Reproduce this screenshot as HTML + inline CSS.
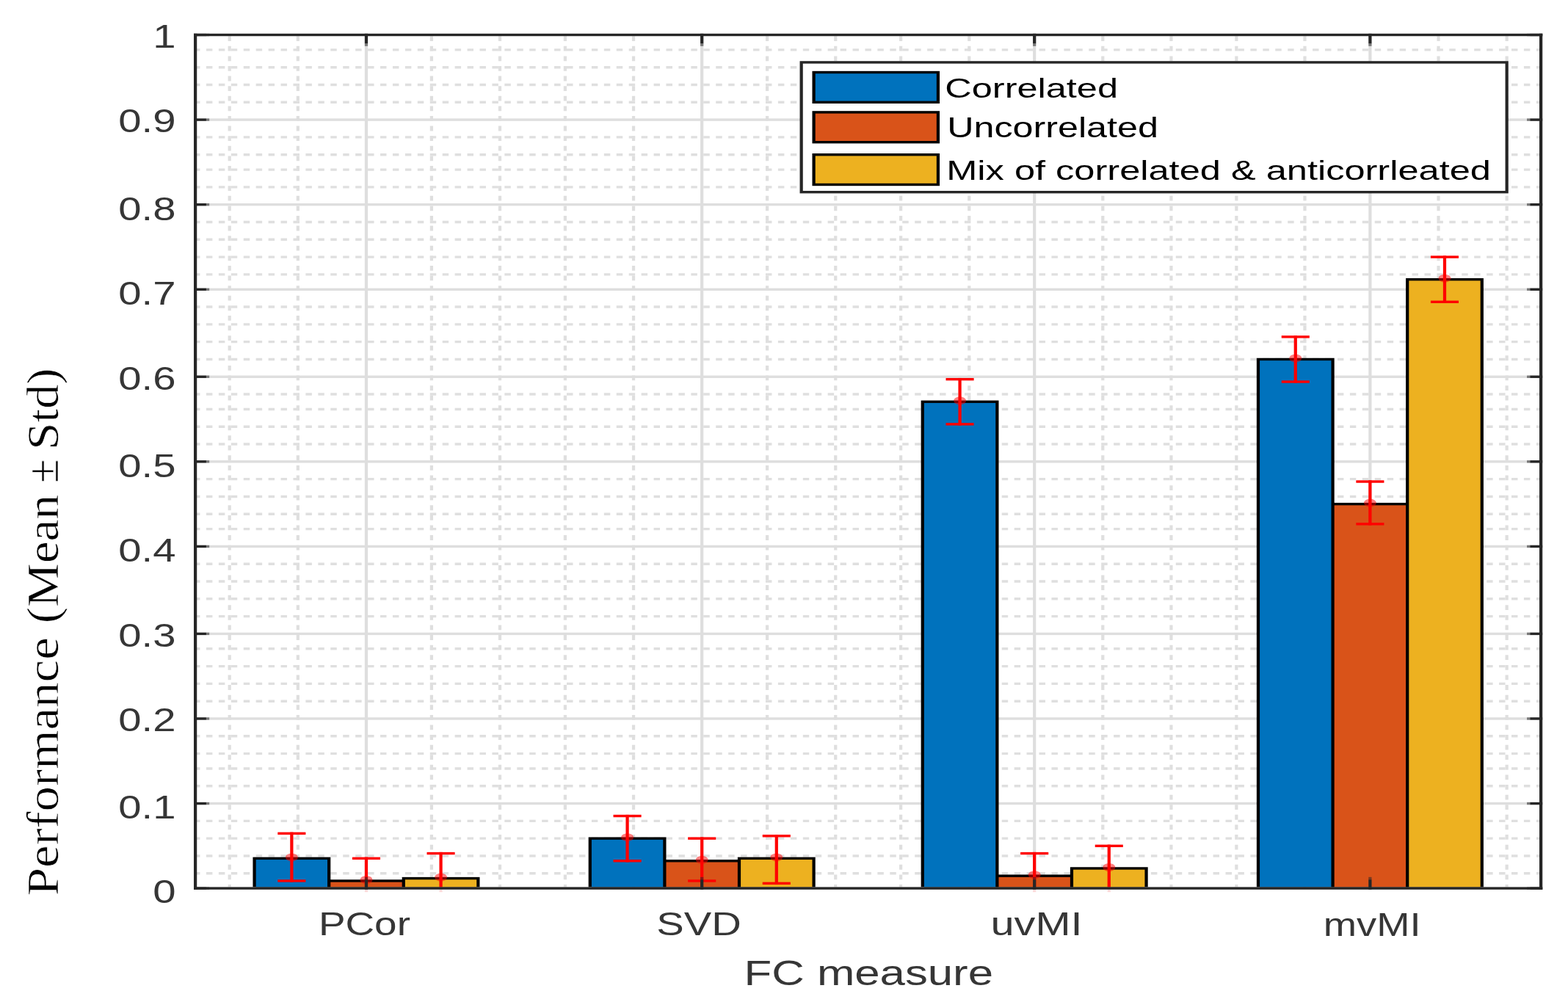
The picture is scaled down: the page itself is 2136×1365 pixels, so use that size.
<!DOCTYPE html>
<html><head><meta charset="utf-8"><title>FC measure performance</title>
<style>
html,body{margin:0;padding:0;background:#fff;overflow:hidden;}
svg{display:block;}
.s{font-family:"Liberation Sans",Arial,Helvetica,sans-serif;fill:#363636;}
.k{font-family:"Liberation Sans",Arial,Helvetica,sans-serif;fill:#000;}
.r{font-family:"Liberation Serif","Times New Roman",serif;fill:#000;stroke:#fff;stroke-width:4px;}
</style></head>
<body>
<svg width="2136" height="1365" viewBox="0 0 2136 1365">
<rect x="0" y="0" width="2136" height="1365" fill="#fff"/>
<line x1="264.00" y1="1189.76" x2="2097.0" y2="1189.76" stroke="#dfdfdf" stroke-width="3.4" stroke-dasharray="8.467 8.467"/>
<line x1="264.00" y1="1165.96" x2="2097.0" y2="1165.96" stroke="#dfdfdf" stroke-width="3.4" stroke-dasharray="8.467 8.467"/>
<line x1="264.00" y1="1142.16" x2="2097.0" y2="1142.16" stroke="#dfdfdf" stroke-width="3.4" stroke-dasharray="8.467 8.467"/>
<line x1="264.00" y1="1118.37" x2="2097.0" y2="1118.37" stroke="#dfdfdf" stroke-width="3.4" stroke-dasharray="8.467 8.467"/>
<line x1="264.00" y1="1070.77" x2="2097.0" y2="1070.77" stroke="#dfdfdf" stroke-width="3.4" stroke-dasharray="8.467 8.467"/>
<line x1="264.00" y1="1046.98" x2="2097.0" y2="1046.98" stroke="#dfdfdf" stroke-width="3.4" stroke-dasharray="8.467 8.467"/>
<line x1="264.00" y1="1026.58" x2="2097.0" y2="1026.58" stroke="#dfdfdf" stroke-width="3.4" stroke-dasharray="8.467 8.467"/>
<line x1="264.00" y1="1002.78" x2="2097.0" y2="1002.78" stroke="#dfdfdf" stroke-width="3.4" stroke-dasharray="8.467 8.467"/>
<line x1="264.00" y1="955.19" x2="2097.0" y2="955.19" stroke="#dfdfdf" stroke-width="3.4" stroke-dasharray="8.467 8.467"/>
<line x1="264.00" y1="931.39" x2="2097.0" y2="931.39" stroke="#dfdfdf" stroke-width="3.4" stroke-dasharray="8.467 8.467"/>
<line x1="264.00" y1="907.60" x2="2097.0" y2="907.60" stroke="#dfdfdf" stroke-width="3.4" stroke-dasharray="8.467 8.467"/>
<line x1="264.00" y1="883.80" x2="2097.0" y2="883.80" stroke="#dfdfdf" stroke-width="3.4" stroke-dasharray="8.467 8.467"/>
<line x1="264.00" y1="839.61" x2="2097.0" y2="839.61" stroke="#dfdfdf" stroke-width="3.4" stroke-dasharray="8.467 8.467"/>
<line x1="264.00" y1="815.81" x2="2097.0" y2="815.81" stroke="#dfdfdf" stroke-width="3.4" stroke-dasharray="8.467 8.467"/>
<line x1="264.00" y1="792.01" x2="2097.0" y2="792.01" stroke="#dfdfdf" stroke-width="3.4" stroke-dasharray="8.467 8.467"/>
<line x1="264.00" y1="768.22" x2="2097.0" y2="768.22" stroke="#dfdfdf" stroke-width="3.4" stroke-dasharray="8.467 8.467"/>
<line x1="264.00" y1="720.62" x2="2097.0" y2="720.62" stroke="#dfdfdf" stroke-width="3.4" stroke-dasharray="8.467 8.467"/>
<line x1="264.00" y1="700.23" x2="2097.0" y2="700.23" stroke="#dfdfdf" stroke-width="3.4" stroke-dasharray="8.467 8.467"/>
<line x1="264.00" y1="676.43" x2="2097.0" y2="676.43" stroke="#dfdfdf" stroke-width="3.4" stroke-dasharray="8.467 8.467"/>
<line x1="264.00" y1="652.63" x2="2097.0" y2="652.63" stroke="#dfdfdf" stroke-width="3.4" stroke-dasharray="8.467 8.467"/>
<line x1="264.00" y1="605.04" x2="2097.0" y2="605.04" stroke="#dfdfdf" stroke-width="3.4" stroke-dasharray="8.467 8.467"/>
<line x1="264.00" y1="581.24" x2="2097.0" y2="581.24" stroke="#dfdfdf" stroke-width="3.4" stroke-dasharray="8.467 8.467"/>
<line x1="264.00" y1="557.45" x2="2097.0" y2="557.45" stroke="#dfdfdf" stroke-width="3.4" stroke-dasharray="8.467 8.467"/>
<line x1="264.00" y1="537.05" x2="2097.0" y2="537.05" stroke="#dfdfdf" stroke-width="3.4" stroke-dasharray="8.467 8.467"/>
<line x1="264.00" y1="489.46" x2="2097.0" y2="489.46" stroke="#dfdfdf" stroke-width="3.4" stroke-dasharray="8.467 8.467"/>
<line x1="264.00" y1="465.66" x2="2097.0" y2="465.66" stroke="#dfdfdf" stroke-width="3.4" stroke-dasharray="8.467 8.467"/>
<line x1="264.00" y1="441.87" x2="2097.0" y2="441.87" stroke="#dfdfdf" stroke-width="3.4" stroke-dasharray="8.467 8.467"/>
<line x1="264.00" y1="418.07" x2="2097.0" y2="418.07" stroke="#dfdfdf" stroke-width="3.4" stroke-dasharray="8.467 8.467"/>
<line x1="264.00" y1="373.88" x2="2097.0" y2="373.88" stroke="#dfdfdf" stroke-width="3.4" stroke-dasharray="8.467 8.467"/>
<line x1="264.00" y1="350.08" x2="2097.0" y2="350.08" stroke="#dfdfdf" stroke-width="3.4" stroke-dasharray="8.467 8.467"/>
<line x1="264.00" y1="326.28" x2="2097.0" y2="326.28" stroke="#dfdfdf" stroke-width="3.4" stroke-dasharray="8.467 8.467"/>
<line x1="264.00" y1="302.49" x2="2097.0" y2="302.49" stroke="#dfdfdf" stroke-width="3.4" stroke-dasharray="8.467 8.467"/>
<line x1="264.00" y1="254.89" x2="2097.0" y2="254.89" stroke="#dfdfdf" stroke-width="3.4" stroke-dasharray="8.467 8.467"/>
<line x1="264.00" y1="231.10" x2="2097.0" y2="231.10" stroke="#dfdfdf" stroke-width="3.4" stroke-dasharray="8.467 8.467"/>
<line x1="264.00" y1="210.70" x2="2097.0" y2="210.70" stroke="#dfdfdf" stroke-width="3.4" stroke-dasharray="8.467 8.467"/>
<line x1="264.00" y1="186.90" x2="2097.0" y2="186.90" stroke="#dfdfdf" stroke-width="3.4" stroke-dasharray="8.467 8.467"/>
<line x1="264.00" y1="139.31" x2="2097.0" y2="139.31" stroke="#dfdfdf" stroke-width="3.4" stroke-dasharray="8.467 8.467"/>
<line x1="264.00" y1="115.51" x2="2097.0" y2="115.51" stroke="#dfdfdf" stroke-width="3.4" stroke-dasharray="8.467 8.467"/>
<line x1="264.00" y1="91.72" x2="2097.0" y2="91.72" stroke="#dfdfdf" stroke-width="3.4" stroke-dasharray="8.467 8.467"/>
<line x1="264.00" y1="67.92" x2="2097.0" y2="67.92" stroke="#dfdfdf" stroke-width="3.4" stroke-dasharray="8.467 8.467"/>
<line x1="312.69" y1="49.22" x2="312.69" y2="1208.4" stroke="#dfdfdf" stroke-width="4.23" stroke-dasharray="6.799 6.799"/>
<line x1="405.82" y1="49.22" x2="405.82" y2="1208.4" stroke="#dfdfdf" stroke-width="4.23" stroke-dasharray="6.799 6.799"/>
<line x1="587.86" y1="49.22" x2="587.86" y2="1208.4" stroke="#dfdfdf" stroke-width="4.23" stroke-dasharray="6.799 6.799"/>
<line x1="681.00" y1="49.22" x2="681.00" y2="1208.4" stroke="#dfdfdf" stroke-width="4.23" stroke-dasharray="6.799 6.799"/>
<line x1="769.90" y1="49.22" x2="769.90" y2="1208.4" stroke="#dfdfdf" stroke-width="4.23" stroke-dasharray="6.799 6.799"/>
<line x1="863.04" y1="49.22" x2="863.04" y2="1208.4" stroke="#dfdfdf" stroke-width="4.23" stroke-dasharray="6.799 6.799"/>
<line x1="1045.08" y1="49.22" x2="1045.08" y2="1208.4" stroke="#dfdfdf" stroke-width="4.23" stroke-dasharray="6.799 6.799"/>
<line x1="1138.22" y1="49.22" x2="1138.22" y2="1208.4" stroke="#dfdfdf" stroke-width="4.23" stroke-dasharray="6.799 6.799"/>
<line x1="1227.12" y1="49.22" x2="1227.12" y2="1208.4" stroke="#dfdfdf" stroke-width="4.23" stroke-dasharray="6.799 6.799"/>
<line x1="1320.26" y1="49.22" x2="1320.26" y2="1208.4" stroke="#dfdfdf" stroke-width="4.23" stroke-dasharray="6.799 6.799"/>
<line x1="1502.30" y1="49.22" x2="1502.30" y2="1208.4" stroke="#dfdfdf" stroke-width="4.23" stroke-dasharray="6.799 6.799"/>
<line x1="1595.44" y1="49.22" x2="1595.44" y2="1208.4" stroke="#dfdfdf" stroke-width="4.23" stroke-dasharray="6.799 6.799"/>
<line x1="1684.34" y1="49.22" x2="1684.34" y2="1208.4" stroke="#dfdfdf" stroke-width="4.23" stroke-dasharray="6.799 6.799"/>
<line x1="1777.48" y1="49.22" x2="1777.48" y2="1208.4" stroke="#dfdfdf" stroke-width="4.23" stroke-dasharray="6.799 6.799"/>
<line x1="1959.52" y1="49.22" x2="1959.52" y2="1208.4" stroke="#dfdfdf" stroke-width="4.23" stroke-dasharray="6.799 6.799"/>
<line x1="2052.65" y1="49.22" x2="2052.65" y2="1208.4" stroke="#dfdfdf" stroke-width="4.23" stroke-dasharray="6.799 6.799"/>
<rect x="268.2" y="1092.87" width="1828.7" height="3.4" fill="#dedede"/>
<rect x="268.2" y="977.29" width="1828.7" height="3.4" fill="#dedede"/>
<rect x="268.2" y="861.70" width="1828.7" height="3.4" fill="#dedede"/>
<rect x="268.2" y="742.72" width="1828.7" height="3.4" fill="#dedede"/>
<rect x="268.2" y="627.14" width="1828.7" height="3.4" fill="#dedede"/>
<rect x="268.2" y="511.55" width="1828.7" height="3.4" fill="#dedede"/>
<rect x="268.2" y="392.57" width="1828.7" height="3.4" fill="#dedede"/>
<rect x="268.2" y="276.99" width="1828.7" height="3.4" fill="#dedede"/>
<rect x="268.2" y="161.41" width="1828.7" height="3.4" fill="#dedede"/>
<rect x="496.85" y="49.2" width="4.23" height="1159.2" fill="#dedede"/>
<rect x="954.06" y="49.2" width="4.23" height="1159.2" fill="#dedede"/>
<rect x="1407.05" y="49.2" width="4.23" height="1159.2" fill="#dedede"/>
<rect x="1864.27" y="49.2" width="4.23" height="1159.2" fill="#dedede"/>
<rect x="344.44" y="1167.66" width="105.84" height="40.79" fill="#000"/>
<rect x="446.04" y="1198.26" width="105.84" height="10.20" fill="#000"/>
<rect x="547.65" y="1194.86" width="105.84" height="13.60" fill="#000"/>
<rect x="801.66" y="1140.46" width="105.84" height="67.99" fill="#000"/>
<rect x="903.26" y="1171.06" width="105.84" height="37.39" fill="#000"/>
<rect x="1004.86" y="1167.66" width="105.84" height="40.79" fill="#000"/>
<rect x="1254.64" y="545.55" width="105.84" height="662.90" fill="#000"/>
<rect x="1356.24" y="1191.46" width="105.84" height="17.00" fill="#000"/>
<rect x="1457.85" y="1181.26" width="105.84" height="27.20" fill="#000"/>
<rect x="1711.86" y="487.76" width="105.84" height="720.69" fill="#000"/>
<rect x="1813.46" y="684.93" width="105.84" height="523.52" fill="#000"/>
<rect x="1915.07" y="378.98" width="105.84" height="829.48" fill="#000"/>
<rect x="348.67" y="1171.06" width="97.37" height="37.39" fill="#0072bd"/>
<rect x="450.28" y="1201.66" width="97.37" height="6.80" fill="#d95319"/>
<rect x="551.88" y="1198.26" width="97.37" height="10.20" fill="#edb120"/>
<rect x="805.89" y="1143.86" width="97.37" height="64.59" fill="#0072bd"/>
<rect x="907.49" y="1174.46" width="97.37" height="34.00" fill="#d95319"/>
<rect x="1009.10" y="1171.06" width="97.37" height="37.39" fill="#edb120"/>
<rect x="1258.87" y="548.95" width="97.37" height="659.50" fill="#0072bd"/>
<rect x="1360.48" y="1194.86" width="97.37" height="13.60" fill="#d95319"/>
<rect x="1462.08" y="1184.66" width="97.37" height="23.80" fill="#edb120"/>
<rect x="1716.09" y="491.16" width="97.37" height="717.29" fill="#0072bd"/>
<rect x="1817.70" y="688.33" width="97.37" height="520.12" fill="#d95319"/>
<rect x="1919.30" y="382.38" width="97.37" height="826.08" fill="#edb120"/>
<rect x="395.24" y="1133.67" width="4.23" height="67.99" fill="#ff0000"/>
<rect x="378.31" y="1133.67" width="38.10" height="3.40" fill="#ff0000"/>
<rect x="378.31" y="1198.26" width="38.10" height="3.40" fill="#ff0000"/>
<ellipse cx="397.4" cy="1167.9" rx="8.5" ry="5.5" fill="#ff0000" fill-opacity="0.5"/>
<rect x="496.84" y="1167.66" width="4.23" height="40.79" fill="#ff0000"/>
<rect x="479.91" y="1167.66" width="38.10" height="3.40" fill="#ff0000"/>
<rect x="496.84" y="1211.85" width="4.23" height="3.40" fill="#ff0000" fill-opacity="0.15"/>
<ellipse cx="499.0" cy="1198.5" rx="8.5" ry="5.5" fill="#ff0000" fill-opacity="0.5"/>
<rect x="598.45" y="1160.86" width="4.23" height="47.59" fill="#ff0000"/>
<rect x="581.51" y="1160.86" width="38.10" height="3.40" fill="#ff0000"/>
<rect x="598.45" y="1211.85" width="4.23" height="3.40" fill="#ff0000" fill-opacity="0.15"/>
<ellipse cx="600.6" cy="1195.1" rx="8.5" ry="5.5" fill="#ff0000" fill-opacity="0.5"/>
<rect x="852.46" y="1109.87" width="4.23" height="64.59" fill="#ff0000"/>
<rect x="835.52" y="1109.87" width="38.10" height="3.40" fill="#ff0000"/>
<rect x="835.52" y="1171.06" width="38.10" height="3.40" fill="#ff0000"/>
<ellipse cx="854.6" cy="1140.7" rx="8.5" ry="5.5" fill="#ff0000" fill-opacity="0.5"/>
<rect x="954.06" y="1140.46" width="4.23" height="61.19" fill="#ff0000"/>
<rect x="937.13" y="1140.46" width="38.10" height="3.40" fill="#ff0000"/>
<rect x="937.13" y="1198.26" width="38.10" height="3.40" fill="#ff0000"/>
<ellipse cx="956.2" cy="1171.3" rx="8.5" ry="5.5" fill="#ff0000" fill-opacity="0.5"/>
<rect x="1055.67" y="1137.06" width="4.23" height="67.99" fill="#ff0000"/>
<rect x="1038.73" y="1137.06" width="38.10" height="3.40" fill="#ff0000"/>
<rect x="1038.73" y="1201.66" width="38.10" height="3.40" fill="#ff0000"/>
<ellipse cx="1057.8" cy="1167.9" rx="8.5" ry="5.5" fill="#ff0000" fill-opacity="0.5"/>
<rect x="1305.44" y="514.96" width="4.23" height="64.59" fill="#ff0000"/>
<rect x="1288.51" y="514.96" width="38.10" height="3.40" fill="#ff0000"/>
<rect x="1288.51" y="576.15" width="38.10" height="3.40" fill="#ff0000"/>
<ellipse cx="1307.6" cy="545.8" rx="8.5" ry="5.5" fill="#ff0000" fill-opacity="0.5"/>
<rect x="1407.05" y="1160.86" width="4.23" height="47.59" fill="#ff0000"/>
<rect x="1390.11" y="1160.86" width="38.10" height="3.40" fill="#ff0000"/>
<rect x="1407.05" y="1211.85" width="4.23" height="3.40" fill="#ff0000" fill-opacity="0.15"/>
<ellipse cx="1409.2" cy="1191.7" rx="8.5" ry="5.5" fill="#ff0000" fill-opacity="0.5"/>
<rect x="1508.65" y="1150.66" width="4.23" height="57.79" fill="#ff0000"/>
<rect x="1491.72" y="1150.66" width="38.10" height="3.40" fill="#ff0000"/>
<rect x="1508.65" y="1211.85" width="4.23" height="3.40" fill="#ff0000" fill-opacity="0.15"/>
<ellipse cx="1510.8" cy="1181.5" rx="8.5" ry="5.5" fill="#ff0000" fill-opacity="0.5"/>
<rect x="1762.66" y="457.16" width="4.23" height="64.59" fill="#ff0000"/>
<rect x="1745.73" y="457.16" width="38.10" height="3.40" fill="#ff0000"/>
<rect x="1745.73" y="518.36" width="38.10" height="3.40" fill="#ff0000"/>
<ellipse cx="1764.8" cy="488.0" rx="8.5" ry="5.5" fill="#ff0000" fill-opacity="0.5"/>
<rect x="1864.26" y="654.34" width="4.23" height="61.19" fill="#ff0000"/>
<rect x="1847.33" y="654.34" width="38.10" height="3.40" fill="#ff0000"/>
<rect x="1847.33" y="712.13" width="38.10" height="3.40" fill="#ff0000"/>
<ellipse cx="1866.4" cy="685.1" rx="8.5" ry="5.5" fill="#ff0000" fill-opacity="0.5"/>
<rect x="1965.87" y="348.38" width="4.23" height="64.59" fill="#ff0000"/>
<rect x="1948.93" y="348.38" width="38.10" height="3.40" fill="#ff0000"/>
<rect x="1948.93" y="409.57" width="38.10" height="3.40" fill="#ff0000"/>
<ellipse cx="1968.0" cy="379.2" rx="8.5" ry="5.5" fill="#ff0000" fill-opacity="0.5"/>
<rect x="496.85" y="1194.80" width="4.23" height="3.40" fill="#262626" fill-opacity="0.55"/>
<rect x="496.85" y="1198.20" width="4.23" height="13.60" fill="#262626"/>
<rect x="496.85" y="59.40" width="4.23" height="3.40" fill="#262626" fill-opacity="0.55"/>
<rect x="496.85" y="45.80" width="4.23" height="13.60" fill="#262626"/>
<rect x="954.06" y="1194.80" width="4.23" height="3.40" fill="#262626" fill-opacity="0.55"/>
<rect x="954.06" y="1198.20" width="4.23" height="13.60" fill="#262626"/>
<rect x="954.06" y="59.40" width="4.23" height="3.40" fill="#262626" fill-opacity="0.55"/>
<rect x="954.06" y="45.80" width="4.23" height="13.60" fill="#262626"/>
<rect x="1407.05" y="1194.80" width="4.23" height="3.40" fill="#262626" fill-opacity="0.55"/>
<rect x="1407.05" y="1198.20" width="4.23" height="13.60" fill="#262626"/>
<rect x="1407.05" y="59.40" width="4.23" height="3.40" fill="#262626" fill-opacity="0.55"/>
<rect x="1407.05" y="45.80" width="4.23" height="13.60" fill="#262626"/>
<rect x="1864.27" y="1194.80" width="4.23" height="3.40" fill="#262626" fill-opacity="0.55"/>
<rect x="1864.27" y="1198.20" width="4.23" height="13.60" fill="#262626"/>
<rect x="1864.27" y="59.40" width="4.23" height="3.40" fill="#262626" fill-opacity="0.55"/>
<rect x="1864.27" y="45.80" width="4.23" height="13.60" fill="#262626"/>
<rect x="280.93" y="1208.45" width="4.23" height="3.4" fill="#262626" fill-opacity="0.55"/>
<rect x="264.00" y="1208.45" width="16.93" height="3.4" fill="#262626"/>
<rect x="2080.04" y="1208.45" width="4.23" height="3.4" fill="#262626" fill-opacity="0.55"/>
<rect x="2084.27" y="1208.45" width="16.93" height="3.4" fill="#262626"/>
<rect x="280.93" y="1092.87" width="4.23" height="3.4" fill="#262626" fill-opacity="0.55"/>
<rect x="264.00" y="1092.87" width="16.93" height="3.4" fill="#262626"/>
<rect x="2080.04" y="1092.87" width="4.23" height="3.4" fill="#262626" fill-opacity="0.55"/>
<rect x="2084.27" y="1092.87" width="16.93" height="3.4" fill="#262626"/>
<rect x="280.93" y="977.29" width="4.23" height="3.4" fill="#262626" fill-opacity="0.55"/>
<rect x="264.00" y="977.29" width="16.93" height="3.4" fill="#262626"/>
<rect x="2080.04" y="977.29" width="4.23" height="3.4" fill="#262626" fill-opacity="0.55"/>
<rect x="2084.27" y="977.29" width="16.93" height="3.4" fill="#262626"/>
<rect x="280.93" y="861.70" width="4.23" height="3.4" fill="#262626" fill-opacity="0.55"/>
<rect x="264.00" y="861.70" width="16.93" height="3.4" fill="#262626"/>
<rect x="2080.04" y="861.70" width="4.23" height="3.4" fill="#262626" fill-opacity="0.55"/>
<rect x="2084.27" y="861.70" width="16.93" height="3.4" fill="#262626"/>
<rect x="280.93" y="742.72" width="4.23" height="3.4" fill="#262626" fill-opacity="0.55"/>
<rect x="264.00" y="742.72" width="16.93" height="3.4" fill="#262626"/>
<rect x="2080.04" y="742.72" width="4.23" height="3.4" fill="#262626" fill-opacity="0.55"/>
<rect x="2084.27" y="742.72" width="16.93" height="3.4" fill="#262626"/>
<rect x="280.93" y="627.14" width="4.23" height="3.4" fill="#262626" fill-opacity="0.55"/>
<rect x="264.00" y="627.14" width="16.93" height="3.4" fill="#262626"/>
<rect x="2080.04" y="627.14" width="4.23" height="3.4" fill="#262626" fill-opacity="0.55"/>
<rect x="2084.27" y="627.14" width="16.93" height="3.4" fill="#262626"/>
<rect x="280.93" y="511.55" width="4.23" height="3.4" fill="#262626" fill-opacity="0.55"/>
<rect x="264.00" y="511.55" width="16.93" height="3.4" fill="#262626"/>
<rect x="2080.04" y="511.55" width="4.23" height="3.4" fill="#262626" fill-opacity="0.55"/>
<rect x="2084.27" y="511.55" width="16.93" height="3.4" fill="#262626"/>
<rect x="280.93" y="392.57" width="4.23" height="3.4" fill="#262626" fill-opacity="0.55"/>
<rect x="264.00" y="392.57" width="16.93" height="3.4" fill="#262626"/>
<rect x="2080.04" y="392.57" width="4.23" height="3.4" fill="#262626" fill-opacity="0.55"/>
<rect x="2084.27" y="392.57" width="16.93" height="3.4" fill="#262626"/>
<rect x="280.93" y="276.99" width="4.23" height="3.4" fill="#262626" fill-opacity="0.55"/>
<rect x="264.00" y="276.99" width="16.93" height="3.4" fill="#262626"/>
<rect x="2080.04" y="276.99" width="4.23" height="3.4" fill="#262626" fill-opacity="0.55"/>
<rect x="2084.27" y="276.99" width="16.93" height="3.4" fill="#262626"/>
<rect x="280.93" y="161.41" width="4.23" height="3.4" fill="#262626" fill-opacity="0.55"/>
<rect x="264.00" y="161.41" width="16.93" height="3.4" fill="#262626"/>
<rect x="2080.04" y="161.41" width="4.23" height="3.4" fill="#262626" fill-opacity="0.55"/>
<rect x="2084.27" y="161.41" width="16.93" height="3.4" fill="#262626"/>
<rect x="280.93" y="45.82" width="4.23" height="3.4" fill="#262626" fill-opacity="0.55"/>
<rect x="264.00" y="45.82" width="16.93" height="3.4" fill="#262626"/>
<rect x="2080.04" y="45.82" width="4.23" height="3.4" fill="#262626" fill-opacity="0.55"/>
<rect x="2084.27" y="45.82" width="16.93" height="3.4" fill="#262626"/>
<rect x="264.0" y="45.8" width="4.23" height="1166.0" fill="#262626"/>
<rect x="2097.0" y="45.8" width="4.23" height="1166.0" fill="#262626"/>
<rect x="264.0" y="45.8" width="1837.2" height="3.4" fill="#262626"/>
<rect x="264.0" y="1208.4" width="1837.2" height="3.4" fill="#262626"/>
<rect x="1089.53" y="83.22" width="965.24" height="180.17" fill="#262626"/>
<rect x="1093.77" y="86.62" width="956.77" height="173.37" fill="#fff"/>
<rect x="1106.47" y="96.82" width="173.57" height="44.19" fill="#000"/>
<rect x="1110.70" y="100.22" width="165.11" height="37.39" fill="#0072bd"/>
<rect x="1106.47" y="151.21" width="173.57" height="44.19" fill="#000"/>
<rect x="1110.70" y="154.61" width="165.11" height="37.39" fill="#d95319"/>
<rect x="1106.47" y="209.00" width="173.57" height="44.19" fill="#000"/>
<rect x="1110.70" y="212.40" width="165.11" height="37.39" fill="#edb120"/>
<text class="s" font-size="400" transform="matrix(0.13722 0 0 0.11026 433.91 1274.41)">PCor</text>
<text class="s" font-size="400" transform="matrix(0.14044 0 0 0.11130 894.24 1274.30)">SVD</text>
<text class="s" font-size="400" transform="matrix(0.14435 0 0 0.10991 1349.49 1274.31)">uvMI</text>
<text class="s" font-size="400" transform="matrix(0.13597 0 0 0.11236 1802.70 1275.00)">mvMI</text>
<text class="s" font-size="400" transform="matrix(0.15433 0 0 0.12174 1013.48 1342.24)">FC measure</text>
<text class="k" font-size="400" transform="matrix(0.12621 0 0 0.09400 1287.33 132.61)">Correlated</text>
<text class="k" font-size="400" transform="matrix(0.12566 0 0 0.09500 1290.16 187.01)">Uncorrelated</text>
<text class="k" font-size="400" transform="matrix(0.12638 0 0 0.09467 1289.25 245.01)">Mix of correlated &amp; anticorrleated</text>
<text class="s" font-size="400" transform="matrix(0.14071 0 0 0.11130 208.18 64.75)">1</text>
<text class="s" font-size="400" transform="matrix(0.14071 0 0 0.11130 161.24 180.30)">0.9</text>
<text class="s" font-size="400" transform="matrix(0.14071 0 0 0.11130 161.24 299.50)">0.8</text>
<text class="s" font-size="400" transform="matrix(0.14071 0 0 0.11130 161.24 414.60)">0.7</text>
<text class="s" font-size="400" transform="matrix(0.14071 0 0 0.11130 161.24 530.60)">0.6</text>
<text class="s" font-size="400" transform="matrix(0.14071 0 0 0.11130 161.24 649.60)">0.5</text>
<text class="s" font-size="400" transform="matrix(0.14071 0 0 0.11130 161.24 765.30)">0.4</text>
<text class="s" font-size="400" transform="matrix(0.14071 0 0 0.11130 161.24 880.80)">0.3</text>
<text class="s" font-size="400" transform="matrix(0.14071 0 0 0.11130 161.24 996.30)">0.2</text>
<text class="s" font-size="400" transform="matrix(0.14071 0 0 0.11130 161.24 1115.40)">0.1</text>
<text class="s" font-size="400" transform="matrix(0.14071 0 0 0.11130 208.18 1230.30)">0</text>
<text class="r" font-size="400" transform="matrix(0 -0.17231 0.15173 0 79.12 1220.28)">Performance</text>
<text class="r" font-size="400" transform="matrix(0 -0.16792 0.15173 0 79.12 849.30)">(Mean</text>
<text class="r" font-size="400" transform="matrix(0 -0.14865 0.15173 0 79.12 657.96)">±</text>
<text class="r" font-size="400" transform="matrix(0 -0.16673 0.15173 0 79.12 612.67)">Std)</text>
</svg>
</body></html>
